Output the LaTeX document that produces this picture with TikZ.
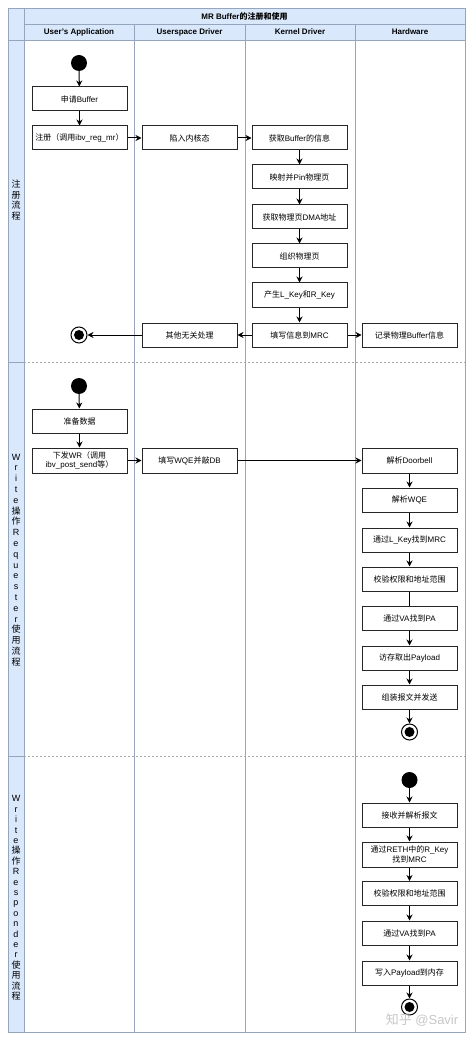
\documentclass[tikz,border=0pt]{standalone}
\usepackage{fontspec}
\setmainfont{Liberation Sans}
\newfontfamily\cjk{Noto Sans CJK SC}
\usetikzlibrary{arrows.meta}
\definecolor{hdr}{HTML}{DAE8FC}
\definecolor{lanec}{RGB}{150,165,190}
\definecolor{sepc}{RGB}{170,170,170}
\newcommand{\zh}[1]{{\cjk #1}}
\tikzset{
  box/.style={draw=black!85, fill=white, line width=1pt, minimum width=95pt, minimum height=24pt, inner sep=1pt, align=center, font=\fontsize{8}{9.5}\selectfont},
  startdot/.style={circle, fill=black, minimum size=16pt, inner sep=0pt},
  enddot/.style={circle, draw=black, line width=1pt, fill=white, minimum size=16pt, inner sep=0pt, path picture={\fill[black] (path picture bounding box.center) circle (5pt);}},
  flow/.style={-{Stealth[length=6pt,width=6pt]}, line width=1pt},
  plainflow/.style={line width=1pt},
  lanel/.style={draw=lanec, line width=0.7pt},
  sepl/.style={draw=sepc, line width=0.7pt, dash pattern=on 2pt off 2pt},
  hdrtext/.style={font=\bfseries\fontsize{8}{9.5}\selectfont, inner sep=0pt},
  vlab/.style={align=center, font=\fontsize{9}{10.8}\selectfont, inner sep=0pt},
}
\begin{document}
\begin{tikzpicture}[x=1pt,y=-1pt]
\useasboundingbox (0,0) rectangle (474,1040);
\fill[white] (0,0) rectangle (474,1040);
% pool
\fill[hdr] (8,8) rectangle (24,1032);
\fill[hdr] (24,8) rectangle (465,40);
\draw[lanel] (8,8) rectangle (465,1032);
\draw[lanel] (24,8) -- (24,1032);
\draw[lanel] (24,24) -- (465,24);
\draw[lanel] (8,40) -- (465,40);
\foreach \x in {134,245,355} \draw[lanel] (\x,24) -- (\x,1032);
\draw[lanel] (8,362) -- (24,362);
\draw[lanel] (8,756) -- (24,756);
\draw[sepl] (24,362) -- (465,362);
\draw[sepl] (24,756) -- (465,756);
% headers
\node[hdrtext] (title) at (244.5,16) {MR Buffer\zh{的注册和使用}};
\node[hdrtext] (hA) at (79,32) {User's Application};
\node[hdrtext] (hB) at (189.5,32) {Userspace Driver};
\node[hdrtext] (hC) at (300,32) {Kernel Driver};
\node[hdrtext] (hD) at (410,32) {Hardware};
% vertical labels
\node[vlab] (l1) at (16,200) {\zh{注}\\\zh{册}\\\zh{流}\\\zh{程}};
\node[vlab] (l2) at (16,560) {W\\r\\i\\t\\e\\\zh{操}\\\zh{作}\\R\\e\\q\\u\\e\\s\\t\\e\\r\\\zh{使}\\\zh{用}\\\zh{流}\\\zh{程}};
\node[vlab, font=\fontsize{9}{10.4}\selectfont] (l3) at (16,898) {W\\r\\i\\t\\e\\\zh{操}\\\zh{作}\\R\\e\\s\\p\\o\\n\\d\\e\\r\\\zh{使}\\\zh{用}\\\zh{流}\\\zh{程}};
% section 1
\node[startdot] (s1) at (79,63) {};
\node[box] (b1) at (79.5,99) {\zh{申请}Buffer};
\node[box] (b2) at (79.5,138) {\zh{注册（调用}ibv\_reg\_mr\zh{）}};
\node[box] (u1) at (189.5,138) {\zh{陷入内核态}};
\node[box] (k1) at (299.5,138) {\zh{获取}Buffer\zh{的信息}};
\node[box] (k2) at (299.5,177) {\zh{映射并}Pin\zh{物理页}};
\node[box] (k3) at (299.5,217) {\zh{获取物理页}DMA\zh{地址}};
\node[box] (k4) at (299.5,256) {\zh{组织物理页}};
\node[box] (k5) at (299.5,295) {\zh{产生}L\_Key\zh{和}R\_Key};
\node[box] (k6) at (299.5,335) {\zh{填写信息到}MRC};
\node[box] (u2) at (189.5,335) {\zh{其他无关处理}};
\node[box] (h1) at (409.5,335) {\zh{记录物理}Buffer\zh{信息}};
\node[enddot] (e1) at (79,335) {};
\draw[flow] (s1) -- (b1);
\draw[flow] (b1) -- (b2);
\draw[flow] (b2) -- (u1);
\draw[flow] (u1) -- (k1);
\draw[flow] (k1) -- (k2);
\draw[flow] (k2) -- (k3);
\draw[flow] (k3) -- (k4);
\draw[flow] (k4) -- (k5);
\draw[flow] (k5) -- (k6);
\draw[flow] (k6) -- (u2);
\draw[flow] (u2) -- (e1);
\draw[flow] (k6) -- (h1);
% section 2
\node[startdot] (s2) at (79,386) {};
\node[box] (b3) at (79.5,421) {\zh{准备数据}};
\node[box, minimum height=25pt] (b4) at (79.5,460.5) {\zh{下发}WR\zh{（调用}\\ibv\_post\_send\zh{等）}};
\node[box, minimum height=25pt] (u3) at (189.5,460.5) {\zh{填写}WQE\zh{并敲}DB};
\node[box, minimum height=25pt] (h2) at (409.5,460.5) {\zh{解析}Doorbell};
\node[box] (h3) at (409.5,500) {\zh{解析}WQE};
\node[box] (h4) at (409.5,540) {\zh{通过}L\_Key\zh{找到}MRC};
\node[box] (h5) at (409.5,579) {\zh{校验权限和地址范围}};
\node[box] (h6) at (409.5,618.5) {\zh{通过}VA\zh{找到}PA};
\node[box] (h7) at (409.5,658) {\zh{访存取出}Payload};
\node[box] (h8) at (409.5,697) {\zh{组装报文并发送}};
\node[enddot] (e2) at (409.5,732) {};
\draw[flow] (s2) -- (b3);
\draw[flow] (b3) -- (b4);
\draw[flow] (b4) -- (u3);
\draw[flow] (u3) -- (h2);
\draw[flow] (h2) -- (h3);
\draw[flow] (h3) -- (h4);
\draw[flow] (h4) -- (h5);
\draw[plainflow] (h5) -- (h6);
\draw[flow] (h6) -- (h7);
\draw[flow] (h7) -- (h8);
\draw[flow] (h8) -- (e2);
% section 3
\node[startdot] (s3) at (409.5,780) {};
\node[box] (h9) at (409.5,815) {\zh{接收并解析报文}};
\node[box, minimum height=25pt] (h10) at (409.5,854.5) {\zh{通过}RETH\zh{中的}R\_Key\\\zh{找到}MRC};
\node[box] (h11) at (409.5,893.5) {\zh{校验权限和地址范围}};
\node[box] (h12) at (409.5,933) {\zh{通过}VA\zh{找到}PA};
\node[box] (h13) at (409.5,973) {\zh{写入}Payload\zh{到内存}};
\node[enddot] (e3) at (409.5,1007) {};
\draw[flow] (s3) -- (h9);
\draw[flow] (h9) -- (h10);
\draw[flow] (h10) -- (h11);
\draw[flow] (h11) -- (h12);
\draw[flow] (h12) -- (h13);
\draw[flow] (h13) -- (e3);
% watermark
\node[text=black!22, font=\fontsize{13}{15}\selectfont, inner sep=0pt] (wm) at (422,1020) {\zh{知乎} @Savir};
\end{tikzpicture}
\end{document}
